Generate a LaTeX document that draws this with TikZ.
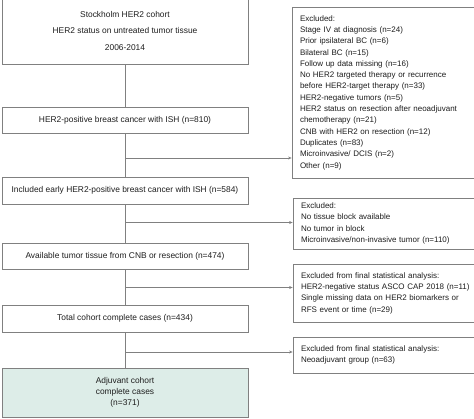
\documentclass[tikz,border=0pt]{standalone}
\usepackage{fontspec}
\setmainfont{Liberation Sans}
\usetikzlibrary{arrows.meta}
\definecolor{lineg}{HTML}{808080}
\definecolor{txt}{HTML}{1E1E1E}
\definecolor{mint}{HTML}{DDEDE8}
\begin{document}
\begin{tikzpicture}[x=1pt,y=-1pt,
  box/.style={draw=lineg,line width=0.8pt,rectangle,inner sep=0pt,text=txt,
    font=\fontsize{8.4}{11.3}\selectfont,align=center},
  lbox/.style={box,minimum width=246pt},
  rbox/.style={box,font=\fontsize{8.0}{11.3}\selectfont,inner xsep=8pt,inner ysep=0pt,text width=190pt,align=left},
  conn/.style={draw=lineg,line width=0.8pt},
  arr/.style={conn,-{Stealth[length=3.5pt,width=3pt]}}]
\useasboundingbox (0,0) rectangle (474,419);
\fill[white] (0,0) rectangle (474,419);
\node[lbox,minimum height=66pt] (top) at (125,31) {Stockholm HER2 cohort\\[5.2pt]HER2 status on untreated tumor tissue\\[5.2pt]2006-2014};
\node[lbox,minimum height=26pt] (pos) at (125,120) {HER2-positive breast cancer with ISH (n=810)};
\node[lbox,minimum height=27pt] (incl) at (125,190.5) {Included early HER2-positive breast cancer with ISH (n=584)};
\node[lbox,minimum height=26pt] (avail) at (125,256) {Available tumor tissue from CNB or resection (n=474)};
\node[lbox,minimum height=27pt] (total) at (125,318.5) {Total cohort complete cases (n=434)};
\node[lbox,minimum height=49pt,fill=mint] (adj) at (125,392.5) {Adjuvant cohort\\complete cases\\(n=371)};
\node[rbox,minimum height=171pt] (ex1) at (395,92.5) {Excluded:\\Stage IV at diagnosis (n=24)\\Prior ipsilateral BC (n=6)\\Bilateral BC (n=15)\\Follow up data missing (n=16)\\No HER2 targeted therapy or recurrence\\before HER2-target therapy (n=33)\\HER2-negative tumors (n=5)\\HER2 status on resection after neoadjuvant\\chemotherapy (n=21)\\CNB with HER2 on resection (n=12)\\Duplicates (n=83)\\Microinvasive/ DCIS (n=2)\\Other (n=9)};
\node[rbox,minimum height=51pt] (ex2) at (396,223.5) {Excluded:\\No tissue block available\\No tumor in block\\Microinvasive/non-invasive tumor (n=110)};
\node[rbox,minimum height=58pt] (ex3) at (396,293) {Excluded from final statistical analysis:\\HER2-negative status ASCO CAP 2018 (n=11)\\Single missing data on HER2 biomarkers or\\RFS event or time (n=29)};
\node[rbox,minimum height=36pt] (ex4) at (396,355) {Excluded from final statistical analysis:\\Neoadjuvant group (n=63)};
\draw[conn] (top) -- (pos);
\draw[conn] (pos) -- (incl);
\draw[conn] (incl) -- (avail);
\draw[conn] (avail) -- (total);
\draw[conn] (total) -- (adj);
\coordinate (b1) at (125,158);
\coordinate (b2) at (125,222.5);
\coordinate (b3) at (125,287.5);
\coordinate (b4) at (125,352);
\draw[arr] (b1) -- (b1 -| ex1.west);
\draw[arr] (b2) -- (b2 -| ex2.west);
\draw[arr] (b3) -- (b3 -| ex3.west);
\draw[arr] (b4) -- (b4 -| ex4.west);
\end{tikzpicture}
\end{document}
